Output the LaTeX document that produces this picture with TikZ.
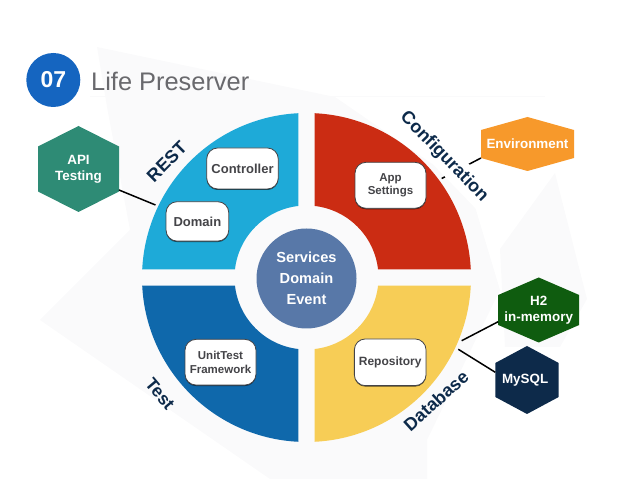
\documentclass[tikz,border=0pt]{standalone}
\usepackage{fontspec}
\setmainfont{Liberation Sans}
\usetikzlibrary{shadows}
\definecolor{cnavy}{RGB}{13, 42, 74}
\definecolor{cteal}{RGB}{46, 139, 117}
\definecolor{corange}{RGB}{247, 153, 43}
\definecolor{cgreen}{RGB}{15, 92, 15}
\definecolor{csky}{RGB}{30, 170, 216}
\definecolor{cred}{RGB}{203, 44, 19}
\definecolor{cyellow}{RGB}{247, 205, 86}
\definecolor{cdeep}{RGB}{15, 104, 171}
\definecolor{ccore}{RGB}{88, 120, 168}
\definecolor{cbadge}{RGB}{21, 101, 192}
\definecolor{cmist}{RGB}{250, 250, 251}
\definecolor{cink}{RGB}{68, 68, 72}
\tikzset{
	hexlabel/.style={inner sep=0pt,outer sep=0pt,align=center,text=white,font=\fontsize{13.4}{16}\selectfont\bfseries},
	cardbox/.style={draw=cink,line width=0.8pt,fill=white,rounded corners=11pt,inner sep=0pt,align=center,text=cink,
		drop shadow={shadow xshift=0pt,shadow yshift=-1pt,opacity=0.6,fill=black}},
	cardlarge/.style={font=\fontsize{13}{15}\selectfont\bfseries},
	cardmedium/.style={font=\fontsize{12}{14}\selectfont\bfseries},
	cardsmall/.style={font=\fontsize{11.5}{13.5}\selectfont\bfseries},
	ringlabel/.style={text=cnavy,inner sep=1pt,font=\fontsize{18}{20}\selectfont\bfseries},
	link/.style={black,line width=1.5pt}
}
\begin{document}
\begin{tikzpicture}[x=1pt,y=1pt]
\useasboundingbox (0,0) rectangle (638,479);

% faint backdrop
\fill[cmist] (97,432) -- (335,382) -- (470,289) -- (500,189) -- (427,39) -- (427,0) -- (270,0) -- (40,159) -- (130,249) -- (107,372) -- cycle;
\fill[cmist] (555,306) -- (587,180) -- (560,132) -- (505,132) -- (500,230) -- cycle;
\draw[cmist,line width=1pt] (90,382) -- (545,382);

\begin{scope}[shift={(306.5,201.5)}]
\foreach \a/\c in {90/csky,0/cred,270/cyellow,180/cdeep}{
	\fill[\c] (\a+2.8:164.5) arc[start angle=\a+2.8,end angle=\a+87.2,radius=164.5pt]
		-- (\a+83.6:72) arc[start angle=\a+83.6,end angle=\a+6.4,radius=72pt] -- cycle;
}
\end{scope}
\node[circle,fill=ccore,minimum size=100pt,inner sep=0pt,align=center,text=white,font=\fontsize{14.6}{21}\selectfont\bfseries]
	(core) at (306.5,200.5) {Services\\Domain\\Event};

\node[circle,fill=cbadge,minimum size=54pt,inner sep=0pt,text=white,font=\fontsize{23}{25}\selectfont\bfseries] (badge) at (53.3,399) {07};
\node[anchor=west,inner sep=0pt,text=cink!80,font=\fontsize{25.4}{28}\selectfont] (title) at (91,398) {Life Preserver};

\coordinate (restport) at (155.5,274);
\coordinate (configport) at (441.7,300.5);
\coordinate (dbporta) at (461.7,138.3);
\coordinate (dbportb) at (458.3,129.7);

\foreach \nm/\x/\y/\w/\h/\s/\c/\txt in {
	api/78.5/310/81/86/20.5/cteal/{API\\Testing},
	env/527.5/335/93/54/13/corange/Environment,
	htwo/538.7/169/81/65/17.5/cgreen/{H2\\in-memory},
	mysql/527/99/63.4/68/17/cnavy/MySQL
}{
	\fill[\c] (\x,\y+\h/2) -- (\x+\w/2,\y+\h/2-\s) -- (\x+\w/2,\y-\h/2+\s) -- (\x,\y-\h/2)
		-- (\x-\w/2,\y-\h/2+\s) -- (\x-\w/2,\y+\h/2-\s) -- cycle;
	\node[hexlabel,minimum width=\w pt,minimum height=\h pt] (\nm) at (\x,\y) {\txt};
}

\draw[link] ([yshift=-21pt]api.east) -- (restport);
\draw[link] ([yshift=-14pt]env.west) -- (configport);
\draw[link] ([yshift=-11.7pt]htwo.west) -- (dbporta);
\draw[link] ([yshift=7.7pt]mysql.west) -- (dbportb);

\node[cardbox,cardlarge,minimum width=71.6pt,minimum height=41pt] (controller) at (242.5,310.5) {Controller};
\node[cardbox,cardlarge,minimum width=62.7pt,minimum height=39.4pt] (domain) at (197.4,257.6) {Domain};
\node[cardbox,cardsmall,minimum width=71pt,minimum height=46pt] (appsettings) at (390.5,293.7) {App\\Settings};
\node[cardbox,cardmedium,minimum width=71.7pt,minimum height=46.7pt] (repository) at (390.2,116.7) {Repository};
\node[cardbox,cardsmall,minimum width=71pt,minimum height=45.7pt] (unittest) at (220.5,116.8) {UnitTest\\Framework};

\node[ringlabel,rotate=45] (rest) at (166.7,317.3) {REST};
\node[ringlabel,rotate=-46,fill=white,minimum height=26pt] (configuration) at (444,322) {Configuration};
\node[ringlabel,rotate=42] (database) at (436,78.3) {Database};
\node[ringlabel,rotate=-50,font=\fontsize{17.5}{20}\selectfont\bfseries] (test) at (160,85) {Test};

\end{tikzpicture}
\end{document}
